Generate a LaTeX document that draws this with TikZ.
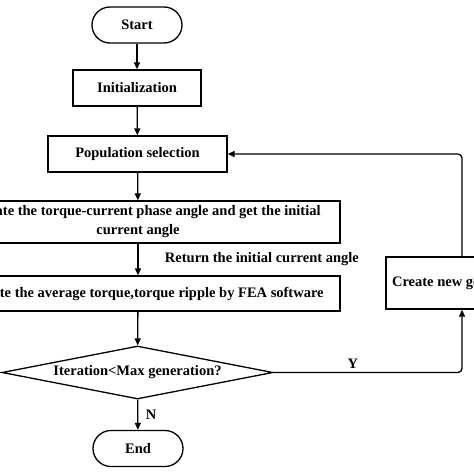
\documentclass[tikz,border=0pt]{standalone}
\usepackage{fontspec}
\setmainfont{Liberation Serif}
\usetikzlibrary{shapes.geometric,arrows.meta}
\begin{document}
\begin{tikzpicture}[x=1pt,y=-1pt,>={Triangle[length=7pt,width=6pt]},line width=1.3pt,font=\fontsize{14.5}{19}\selectfont\bfseries]
    \tikzstyle{term}=[rectangle, draw, rounded corners=18pt, minimum width=90pt, minimum height=36pt]
    \tikzstyle{proc}=[rectangle, draw, minimum height=36pt, align=center]
    \tikzstyle{cond}=[diamond, draw, aspect=5.1, inner sep=0pt, minimum width=271pt, minimum height=53pt]
    \useasboundingbox (0,0) rectangle (474,474);
    \clip (0,0) rectangle (474,474);
    \node[term] (start) at (137,25) {Start};
    \node[proc, minimum width=128pt] (init) at (137,88) {Initialization};
    \node[proc, minimum width=179pt] (pop) at (137.5,154) {Population selection};
    \node[proc, minimum width=404pt, minimum height=42pt] (angle) at (138,222) {Calculate the torque-current phase angle and get the initial\\current angle};
    \node[proc, minimum width=404pt, minimum height=35pt] (torque) at (138,293.5) {Calculate the average torque,torque ripple by FEA software};
    \node[cond] (check) at (137.5,372.5) {Iteration<Max generation?};
    \node[term] (end) at (138,448.5) {End};
    \node[proc, minimum width=152pt, minimum height=52pt] (newgen) at (462,283) {Create new generation};
    \draw[->] (start) -- (init);
    \draw[->] (init) -- (pop);
    \draw[->] (pop) -- (angle);
    \draw[->] (angle) -- node[right, xshift=23pt]{Return the initial current angle} (torque);
    \draw[->] (torque) -- (check);
    \draw[->] (check) -- node[right, xshift=4pt]{N} (end);
    \draw[->, rounded corners=4pt] (check.east) -| node[pos=0.21, above]{Y} (newgen.south);
    \draw[->, rounded corners=4pt] (newgen.north) |- (pop.east);
  \end{tikzpicture}
\end{document}
